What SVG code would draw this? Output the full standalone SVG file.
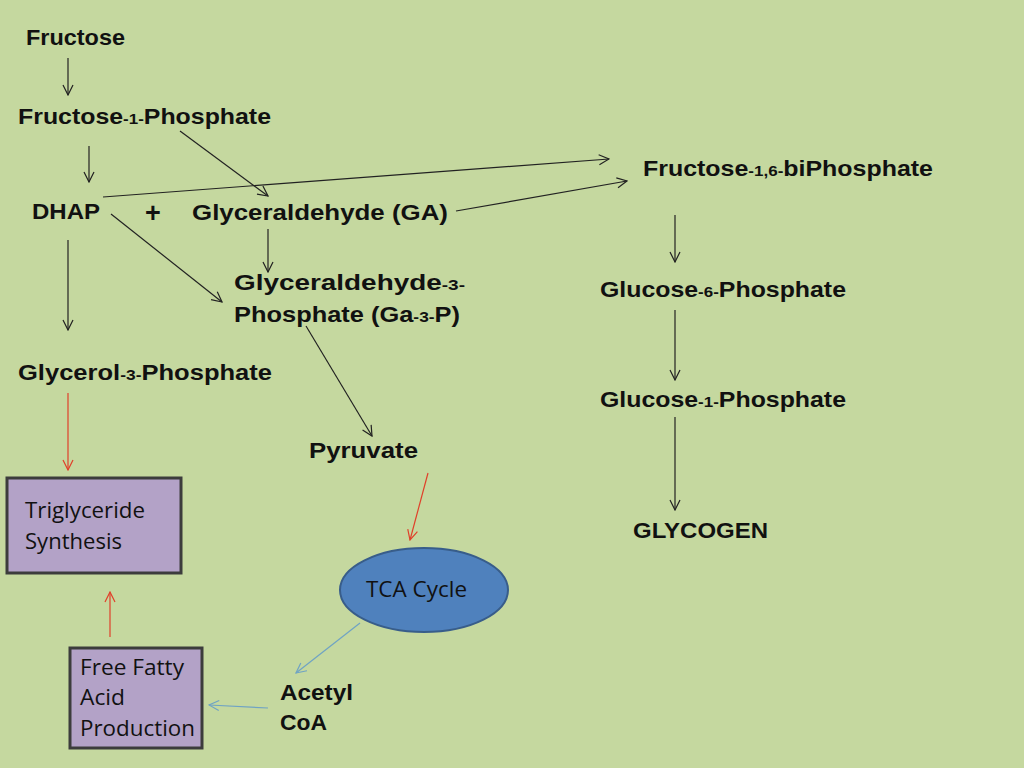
<svg xmlns="http://www.w3.org/2000/svg" width="1024" height="768" viewBox="0 0 1024 768">
<defs>
<style>
.t{font-family:"Liberation Sans",Arial,sans-serif;font-weight:bold;font-size:22px;fill:#111}
.s{font-size:15px}
.b{font-family:"Open Sans","Liberation Sans",sans-serif;font-size:22px;fill:#111}
.k{stroke:#222;stroke-width:1.2;fill:none}
.r{stroke:#e0402a;stroke-width:1.2;fill:none}
.u{stroke:#6fa3c4;stroke-width:1.2;fill:none}
.box{fill:#b3a2c7;stroke:#3c3c3c;stroke-width:3}
</style>
<marker id="ak" viewBox="0 0 12 12" refX="11" refY="6" markerWidth="12" markerHeight="12" markerUnits="userSpaceOnUse" orient="auto"><path d="M1,1 L11,6 L1,11" fill="none" stroke="#222" stroke-width="1.2"/></marker>
<marker id="ar" viewBox="0 0 12 12" refX="11" refY="6" markerWidth="12" markerHeight="12" markerUnits="userSpaceOnUse" orient="auto"><path d="M1,1 L11,6 L1,11" fill="none" stroke="#e0402a" stroke-width="1.2"/></marker>
<marker id="au" viewBox="0 0 12 12" refX="11" refY="6" markerWidth="12" markerHeight="12" markerUnits="userSpaceOnUse" orient="auto"><path d="M1,1 L11,6 L1,11" fill="none" stroke="#6fa3c4" stroke-width="1.2"/></marker>
</defs>
<rect width="1024" height="768" fill="#c5d89f"/>
<g id="connectors">
<line class="k" x1="68" y1="58" x2="68" y2="95" marker-end="url(#ak)"/>
<line class="k" x1="89" y1="146" x2="89" y2="182" marker-end="url(#ak)"/>
<line class="k" x1="180" y1="131" x2="268" y2="196" marker-end="url(#ak)"/>
<line class="k" x1="103" y1="197" x2="609" y2="159" marker-end="url(#ak)"/>
<line class="k" x1="456" y1="211" x2="627" y2="181" marker-end="url(#ak)"/>
<line class="k" x1="268" y1="229" x2="268" y2="272" marker-end="url(#ak)"/>
<line class="k" x1="111" y1="214" x2="222" y2="302" marker-end="url(#ak)"/>
<line class="k" x1="68" y1="240" x2="68" y2="330" marker-end="url(#ak)"/>
<line class="k" x1="306" y1="326" x2="372" y2="436" marker-end="url(#ak)"/>
<line class="k" x1="675" y1="215" x2="675" y2="262" marker-end="url(#ak)"/>
<line class="k" x1="675" y1="310" x2="675" y2="380" marker-end="url(#ak)"/>
<line class="k" x1="675" y1="417" x2="675" y2="510" marker-end="url(#ak)"/>
<line class="r" x1="68" y1="393" x2="68" y2="470" marker-end="url(#ar)"/>
<line class="r" x1="428" y1="473" x2="410" y2="540" marker-end="url(#ar)"/>
<line class="r" x1="110" y1="637" x2="110" y2="592" marker-end="url(#ar)"/>
<line class="u" x1="360" y1="623" x2="296" y2="673" marker-end="url(#au)"/>
<line class="u" x1="268" y1="708" x2="209" y2="705" marker-end="url(#au)"/>
</g>
<g id="fructose"><text class="t" x="26" y="45" textLength="99" lengthAdjust="spacingAndGlyphs">Fructose</text></g>
<g id="f1p"><text class="t" x="18" y="124" textLength="253" lengthAdjust="spacingAndGlyphs">Fructose<tspan class="s">-1-</tspan>Phosphate</text></g>
<g id="dhap"><text class="t" x="32" y="219" textLength="68" lengthAdjust="spacingAndGlyphs">DHAP</text></g>
<g id="plus"><text class="t" x="145" y="222" style="font-size:27px">+</text></g>
<g id="ga"><text class="t" x="192" y="220" textLength="256" lengthAdjust="spacingAndGlyphs">Glyceraldehyde  (GA)</text></g>
<g id="g3p"><text class="t" x="234" y="290" textLength="231" lengthAdjust="spacingAndGlyphs">Glyceraldehyde<tspan class="s">-3-</tspan></text><text class="t" x="234" y="322" textLength="226" lengthAdjust="spacingAndGlyphs">Phosphate (Ga<tspan class="s">-3-</tspan>P)</text></g>
<g id="f16bp"><text class="t" x="643" y="176" textLength="290" lengthAdjust="spacingAndGlyphs">Fructose<tspan class="s">-1,6-</tspan>biPhosphate</text></g>
<g id="g6p"><text class="t" x="600" y="297" textLength="246" lengthAdjust="spacingAndGlyphs">Glucose<tspan class="s">-6-</tspan>Phosphate</text></g>
<g id="g1p"><text class="t" x="600" y="407" textLength="246" lengthAdjust="spacingAndGlyphs">Glucose<tspan class="s">-1-</tspan>Phosphate</text></g>
<g id="glycogen"><text class="t" x="633" y="538" textLength="135" lengthAdjust="spacingAndGlyphs">GLYCOGEN</text></g>
<g id="gly3p"><text class="t" x="18" y="380" textLength="254" lengthAdjust="spacingAndGlyphs">Glycerol<tspan class="s">-3-</tspan>Phosphate</text></g>
<g id="pyruvate"><text class="t" x="309" y="458" textLength="109" lengthAdjust="spacingAndGlyphs">Pyruvate</text></g>
<g id="tg"><rect class="box" x="7" y="478" width="174" height="95"/><text class="b" x="25" y="518" textLength="120" lengthAdjust="spacingAndGlyphs">Triglyceride</text><text class="b" x="25" y="549" textLength="97" lengthAdjust="spacingAndGlyphs">Synthesis</text></g>
<g id="tca"><ellipse cx="424" cy="590" rx="84" ry="42" fill="#4f81bd" stroke="#385d8a" stroke-width="2"/><text class="b" x="366" y="597" textLength="101" lengthAdjust="spacingAndGlyphs">TCA Cycle</text></g>
<g id="acetyl"><text class="t" x="280" y="700" textLength="73" lengthAdjust="spacingAndGlyphs">Acetyl</text><text class="t" x="280" y="730" textLength="47" lengthAdjust="spacingAndGlyphs">CoA</text></g>
<g id="ffa"><rect class="box" x="70" y="648" width="132" height="100"/><text class="b" x="80" y="675" textLength="104" lengthAdjust="spacingAndGlyphs">Free Fatty</text><text class="b" x="80" y="705" textLength="45" lengthAdjust="spacingAndGlyphs">Acid</text><text class="b" x="80" y="736" textLength="115" lengthAdjust="spacingAndGlyphs">Production</text></g>
</svg>
